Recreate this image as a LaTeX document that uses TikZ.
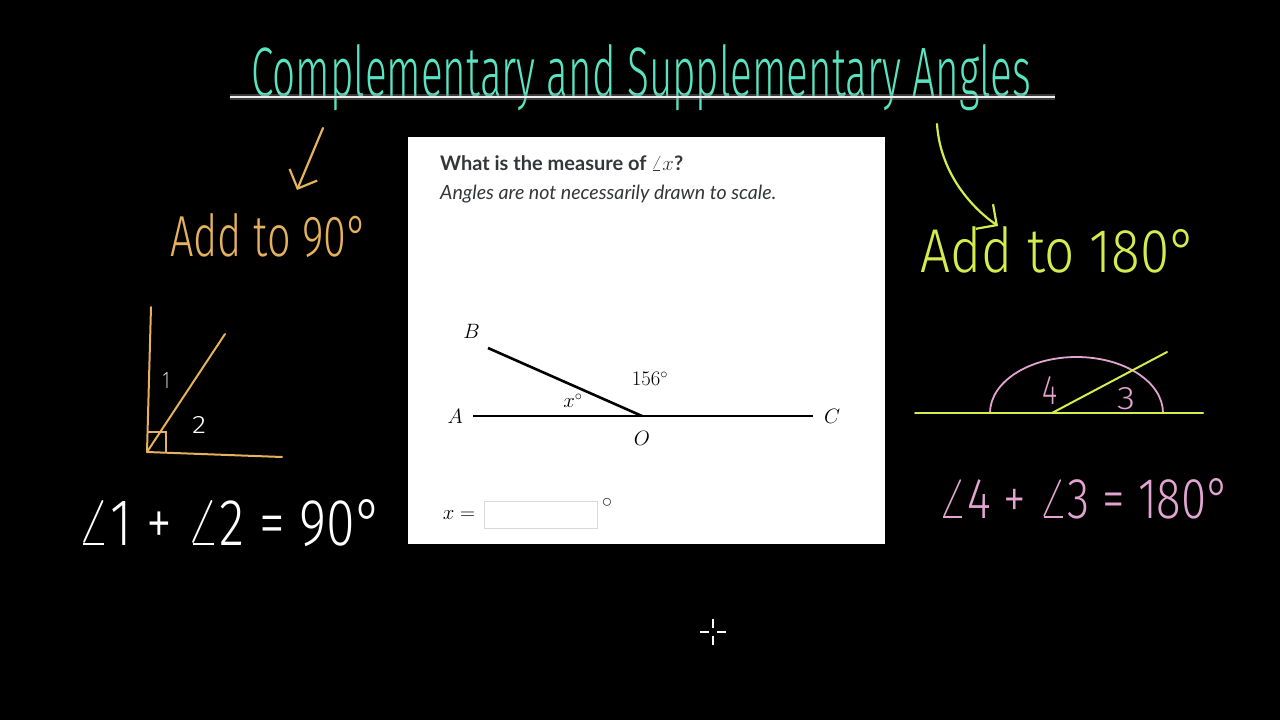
\documentclass[tikz,border=0pt]{standalone}
\usepackage{fontspec}
\usepackage{graphicx}
\usetikzlibrary{positioning,arrows.meta,calc}
\setmainfont{Lato}
\newfontfamily\handfont{Fira Sans Light}
\newcommand{\handtext}[3]{\resizebox{#1}{#2}{\handfont #3}}
\definecolor{mint}{RGB}{88,228,192}
\definecolor{gold}{RGB}{228,178,92}
\definecolor{lime}{RGB}{214,236,78}
\definecolor{rosy}{RGB}{226,164,208}
\definecolor{inkgray}{RGB}{52,54,56}
\tikzset{
  stroke/.style={line width=2.2pt, line cap=round, line join=round},
  geom/.style={line width=2.6pt, black},
  lbl/.style={inner sep=0pt, font=\fontsize{22}{26}\selectfont},
}

\begin{document}
\begin{tikzpicture}[x=1pt,y=-1pt, hw/.style={inner sep=0pt,anchor=base west}, barb/.style={-{Straight Barb[length=15pt,width=30pt]}}]
\fill[black] (0,0) rectangle (1280,720);
\useasboundingbox (0,0) rectangle (1280,720);

% title
\node[hw, text=mint] (title) at (251,96) {\handtext{780pt}{52pt}{Complementary and Supplementary Angles}};
\coordinate (ulL) at (230,97);
\coordinate (ulR) at (1055,97);
\draw[gray, line width=6pt, opacity=0.45] (ulL) -- (ulR);
\draw[white!88!gray, line width=2pt] (ulL) -- (ulR);

% complementary side
\coordinate (arrLa) at (323,128);
\coordinate (arrLb) at (297,190);
\draw[stroke, gold, barb] (arrLa) -- (arrLb);
\node[hw, text=gold] (addninety) at (170,256) {\handtext{198pt}{43pt}{Add to 90°}};

\coordinate (vtop) at (151,307);
\coordinate (vert) at (147,452);
\coordinate (raytip) at (225,334);
\coordinate (htip) at (282,457);
\draw[stroke, gold, line width=2pt] (vtop) -- (vert) -- (htip);
\draw[stroke, gold, line width=2pt] (vert) -- (raytip);
\draw[gold, line width=2.6pt] ($(vert)+(0,-20)$) -| ($(vert)+(19,0)$);
\node[text=white!85!black, inner sep=0pt] (one) at (166,380) {\handtext{7pt}{16pt}{1}};
\node[text=white, inner sep=0pt] (two) at (199,425) {\handtext{14pt}{17pt}{2}};

\node[hw, text=white] (sumleft) at (77,545) {\handtext{305pt}{46pt}{$\angle$1 + $\angle$2 = 90°}};

% supplementary side
\coordinate (arrRa) at (937,124);
\coordinate (arrRb) at (998,226);
\draw[stroke, lime, barb] (arrRa) .. controls (940,170) and (968,205) .. (arrRb);
\node[hw, text=lime] (addoneeighty) at (920,272) {\handtext{277pt}{46pt}{Add to 180°}};

\coordinate (baseL) at (915,413);
\coordinate (baseR) at (1203,413);
\coordinate (vtx) at (1052,413);
\coordinate (ray) at (1167,352);
\coordinate (arcL) at (990,413);
\draw[rosy, line width=1.8pt] (arcL) arc[start angle=180, end angle=360, x radius=86.5, y radius=56];
\draw[stroke, lime, line width=2pt] (baseL) -- (baseR);
\draw[stroke, lime, line width=2pt] (vtx) -- (ray);
\node[text=rosy, inner sep=0pt] (four) at (1050,390) {\handtext{15pt}{28pt}{4}};
\node[text=rosy, inner sep=0pt] (three) at (1126,399) {\handtext{18pt}{22pt}{3}};

\node[hw, text=rosy] (sumright) at (938,518) {\handtext{292pt}{40pt}{$\angle$4 + $\angle$3 = 180°}};

% exercise card
\node[fill=white, anchor=north west, minimum width=477pt, minimum height=407pt, inner sep=0pt] (card) at (408,137) {};
\node[anchor=base west, inner sep=0pt, text=inkgray, font=\fontsize{20}{24}\selectfont\bfseries] (question) at (440,170) {What is the measure of $\angle x$?};
\node[anchor=base west, inner sep=0pt, text=inkgray, font=\fontsize{19.6}{24}\selectfont\itshape] (hint) at ($(question.base west)+(0,29)$) {Angles are not necessarily drawn to scale.};

\coordinate (A) at (473,416);
\coordinate (C) at (813,416);
\coordinate (O) at (642,416);
\coordinate (B) at (488,348);
\draw[geom] (A) -- (C);
\draw[geom] (B) -- (O);
\node[lbl, left=10pt of A] (labA) {$A$};
\node[lbl, right=11pt of C] (labC) {$C$};
\node[lbl, below=15pt of O] (labO) {$O$};
\node[lbl, above left=9pt and 8pt of B] (labB) {$B$};
\node[lbl] (big) at (650,379) {$156^\circ$};
\node[lbl] (small) at (573,401) {$x^\circ$};

\node[lbl] (xeq) at (459,515) {$x =$};
\node[draw=black!15, line width=1pt, minimum width=113pt, minimum height=27pt, inner sep=0pt, anchor=west] (answer) at (484,514.5) {};
\node[lbl, text=black!75] (deg) at (607,503) {$\circ$};

% pointer
\coordinate (cur) at (713,632);
\foreach \a in {0,90,180,270}
  \draw[white, line width=1.2pt] (cur) ++(\a:4) -- ++(\a:9);
\end{tikzpicture}
\end{document}
